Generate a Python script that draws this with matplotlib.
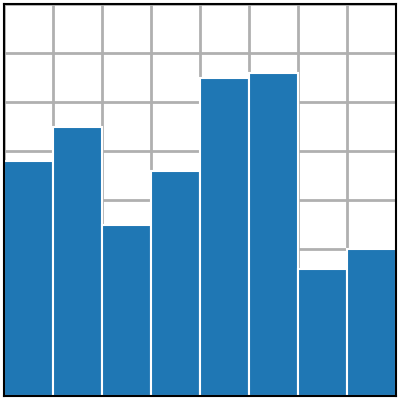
import numpy as np
import matplotlib
matplotlib.use("Agg")
import matplotlib.pyplot as plt

# bar heights
positions = [0.5, 1.5, 2.5, 3.5, 4.5, 5.5, 6.5, 7.5]
heights = [4.8, 5.49, 3.49, 4.59, 6.49, 6.59, 2.59, 3.0]

fig = plt.figure(figsize=(4, 4), dpi=100)
ax = fig.add_axes([0.01, 0.01, 0.98, 0.98])
ax.set_axisbelow(True)
ax.grid(True, color="#b0b0b0", lw=2)
ax.bar(positions, heights, width=1.0, color="#1f77b4", edgecolor="white", lw=1.5)
ax.set_xlim(0, 8)
ax.set_ylim(0, 8)
ax.set_xticks(np.arange(0, 9))
ax.set_yticks(np.arange(0, 9))
ax.tick_params(length=0, labelbottom=False, labelleft=False)
for s in ax.spines.values():
    s.set_linewidth(1.5)
fig.savefig("out.png", dpi=100)
